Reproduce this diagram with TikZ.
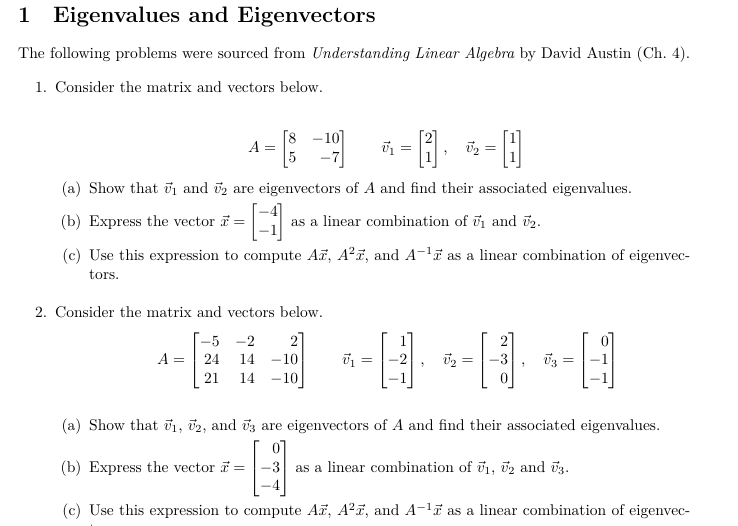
\documentclass[tikz,border=0pt]{standalone}
\usepackage{amsmath,mathtools}
\usepackage{enumitem}
\begin{document}
\begin{tikzpicture}
\useasboundingbox (0,0) rectangle (475.5pt,338.5pt);
\clip (0,0) rectangle (475.5pt,338.5pt);
\fill[white] (0,0) rectangle (475.5pt,338.5pt);
\node (page) [anchor=north west, inner sep=0pt, text width=433pt, align=justify] at (11.5pt,334.5pt) {%
\noindent{\Large\bfseries 1\quad Eigenvalues and Eigenvectors}\par\vspace{2.7ex}
\noindent The following problems were sourced from \emph{Understanding Linear Algebra} by David Austin (Ch.~4).
\begin{enumerate}[leftmargin=*,labelindent=11pt,itemsep=2ex,topsep=10pt]
\item Consider the matrix and vectors below.
\setlength\abovedisplayskip{23pt}\setlength\belowdisplayskip{1.5pt}
\[ \hspace{18pt}A=\begin{bmatrix*}[r]8&-10\\5&-7\end{bmatrix*}\qquad \vec{v}_1=\begin{bmatrix}2\\1\end{bmatrix},\quad \vec{v}_2=\begin{bmatrix}1\\1\end{bmatrix}\]
\begin{enumerate}[label=(\alph*),itemsep=0.3ex]
\item Show that $\vec v_1$ and $\vec v_2$ are eigenvectors of $A$ and find their associated eigenvalues.
\item Express the vector $\vec x=\begin{bmatrix*}[r]-4\\-1\end{bmatrix*}$ as a linear combination of $\vec v_1$ and $\vec v_2$.
\item Use this expression to compute $A\vec x$, $A^2\vec x$, and $A^{-1}\vec x$ as a linear combination of eigen\-vec\-tors.
\end{enumerate}
\item Consider the matrix and vectors below.
\setlength\abovedisplayskip{9pt}\setlength\belowdisplayskip{18pt}
\[ \hspace{20pt}A=\begin{bmatrix*}[r]-5&-2&2\\24&14&-10\\21&14&-10\end{bmatrix*}\qquad \vec{v}_1=\begin{bmatrix*}[r]1\\-2\\-1\end{bmatrix*},\quad \vec{v}_2=\begin{bmatrix*}[r]2\\-3\\0\end{bmatrix*},\quad \vec{v}_3=\begin{bmatrix*}[r]0\\-1\\-1\end{bmatrix*}\]
\begin{enumerate}[label=(\alph*),itemsep=0.3ex]
\item Show that $\vec v_1$, $\vec v_2$, and $\vec v_3$ are eigenvectors of $A$ and find their associated eigenvalues.
\item Express the vector $\vec x=\begin{bmatrix*}[r]0\\-3\\-4\end{bmatrix*}$ as a linear combination of $\vec v_1$, $\vec v_2$ and $\vec v_3$.
\item Use this expression to compute $A\vec x$, $A^2\vec x$, and $A^{-1}\vec x$ as a linear combination of eigen\-vec\-tors.
\end{enumerate}
\end{enumerate}
};
\end{tikzpicture}
\end{document}
